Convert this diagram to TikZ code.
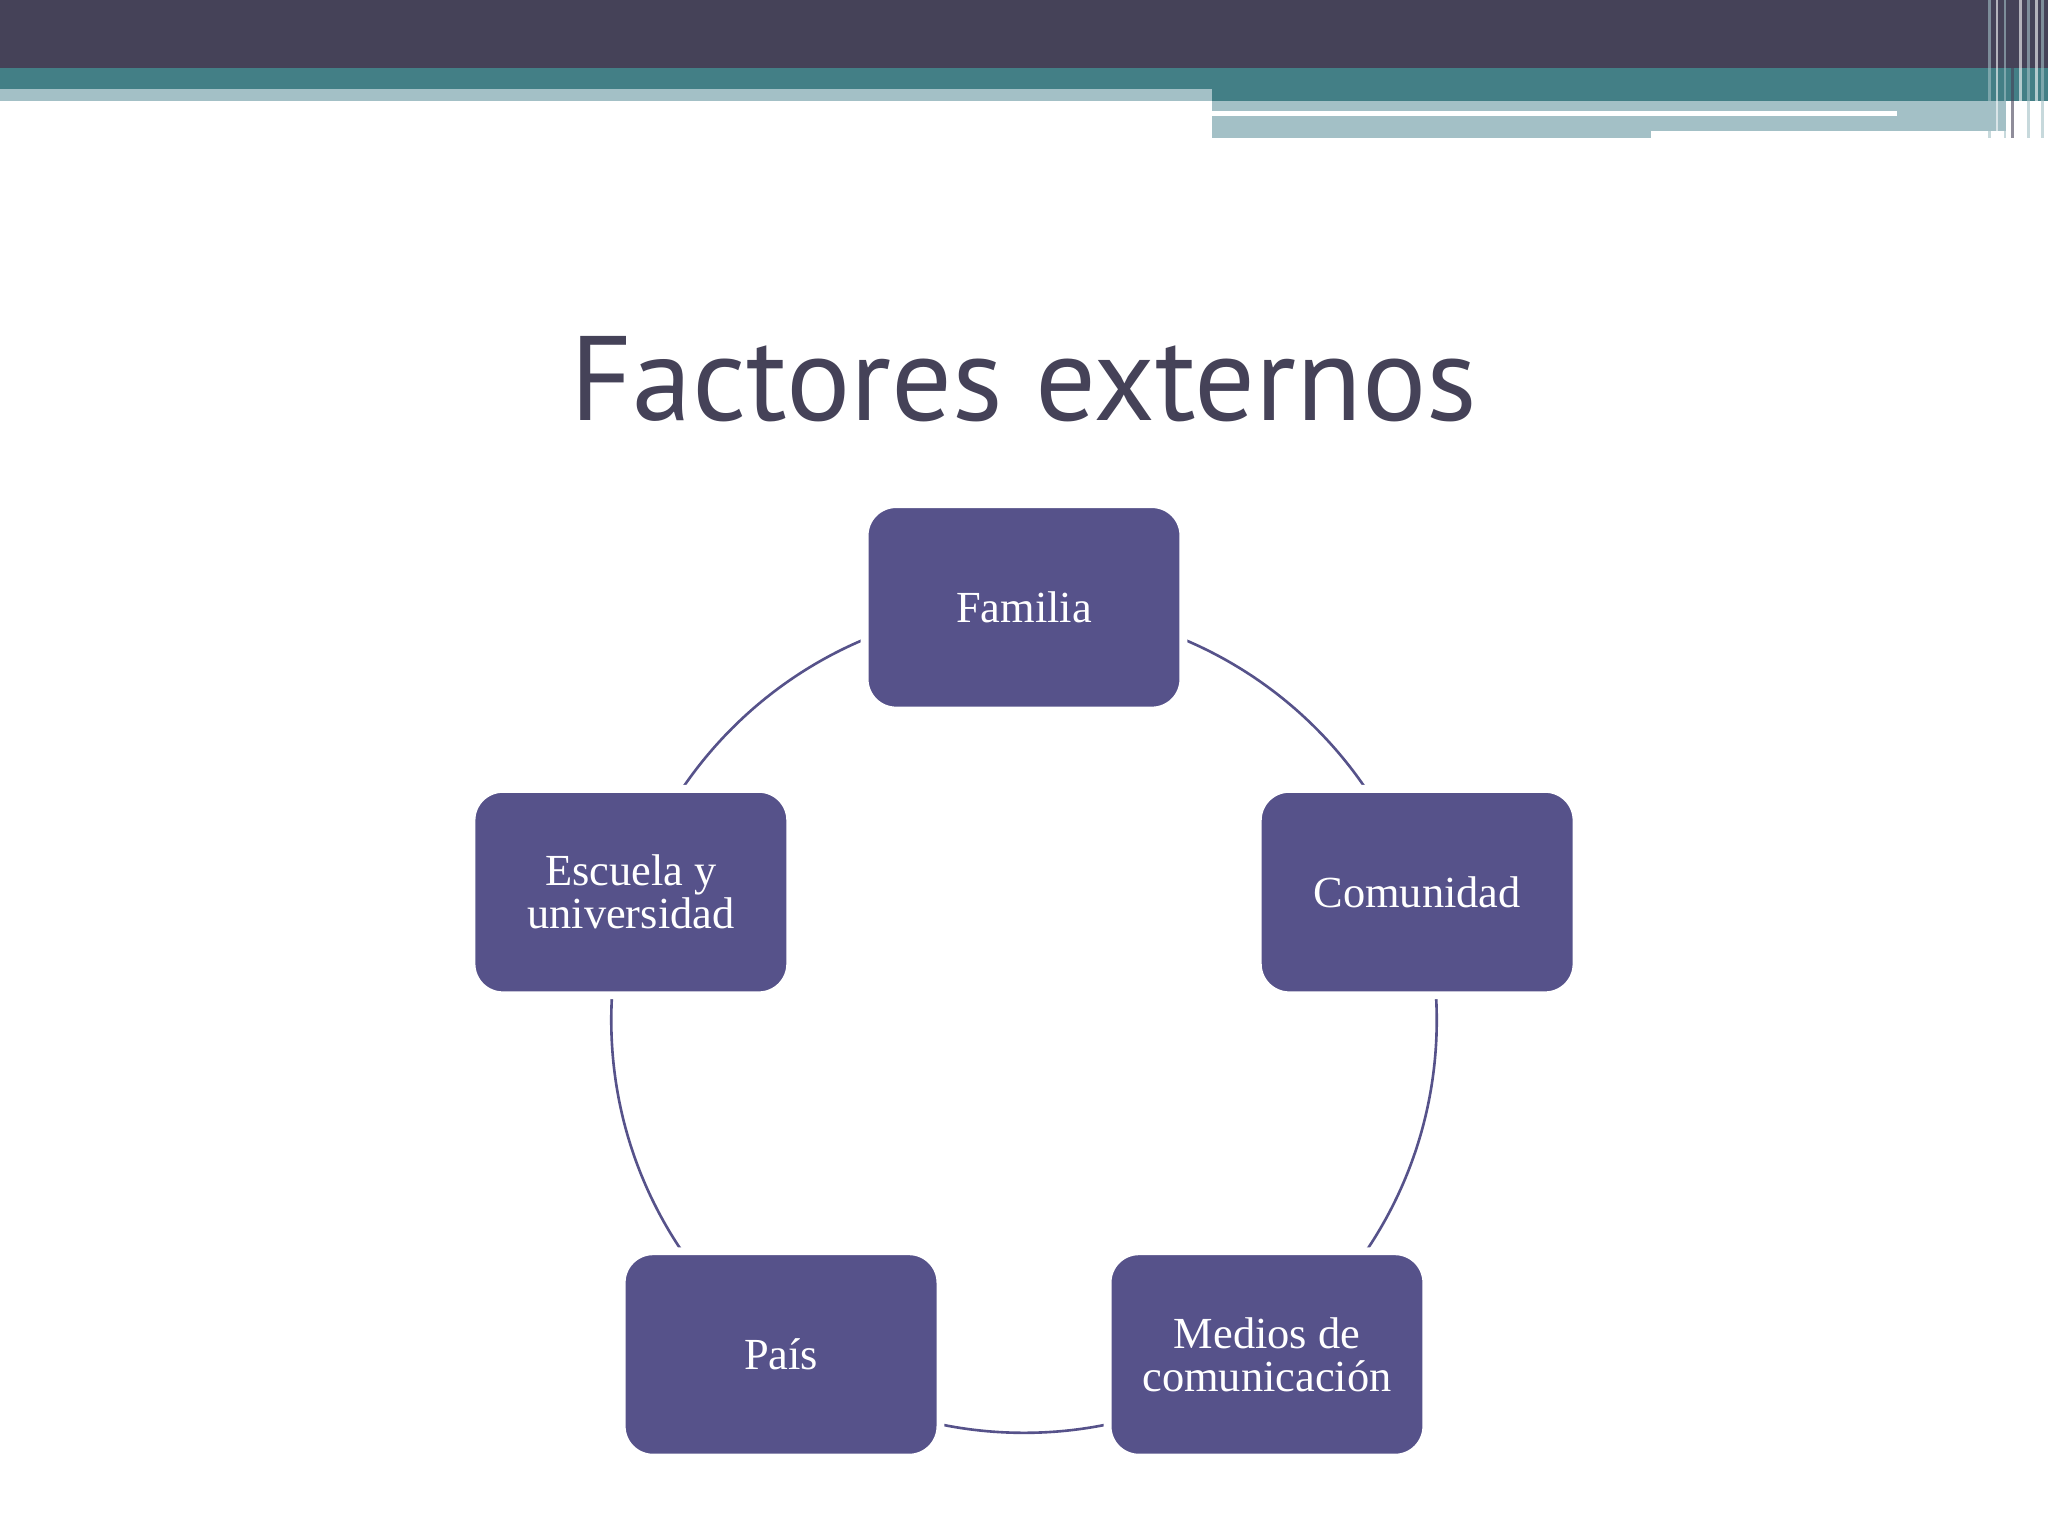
\documentclass[tikz,border=0pt]{standalone}
\usepackage{fontspec}
\setmainfont{Liberation Serif}
\newfontfamily\titlefont{PT Sans}
\definecolor{dark}{HTML}{454258}
\definecolor{teal}{HTML}{437F86}
\definecolor{lite}{HTML}{A3C0C6}
\definecolor{boxc}{HTML}{56528A}
\begin{document}
\begin{tikzpicture}[x=0.5pt,y=-0.5pt,
  fbox/.style={draw=white,line width=3pt,fill=boxc,rounded corners=12pt,minimum width=122pt,minimum height=79pt,text=white,font=\fontsize{17}{16.5}\selectfont,align=center}]
\useasboundingbox (0,0) rectangle (1568,1176);
\fill[white] (0,0) rectangle (1568,1176);
\fill[dark] (0,0) rectangle (1568,52);
\fill[teal] (0,52) rectangle (1568,68);
\fill[lite] (0,68) rectangle (928,77);
\fill[teal] (928,68) rectangle (1568,77);
\fill[lite] (928,77) rectangle (1536,106);
\fill[white] (928,85) rectangle (1452,89);
\fill[white] (1264,100) rectangle (1536,106);
\foreach \x/\c in {1522/lite,1528/white,1534/lite,1540/dark,1546/white,1552/lite,1558/white,1563/lite}
  \fill[\c,opacity=0.6] (\x,0) rectangle (\x+2,106);
\node[text=dark,font=\titlefont\fontsize{46}{46}\selectfont] (title) at (784,290) {Factores externos};
\draw[boxc,line width=1pt] (784,781) circle[radius=316];
\node[fbox] (fam) at (784,465) {Familia};
\node[fbox] (com) at (1085,683) {Comunidad};
\node[fbox] (med) at (970,1037) {Medios de\\comunicación};
\node[fbox] (pai) at (598,1037) {País};
\node[fbox] (esc) at (483,683) {Escuela y\\universidad};
\end{tikzpicture}
\end{document}
